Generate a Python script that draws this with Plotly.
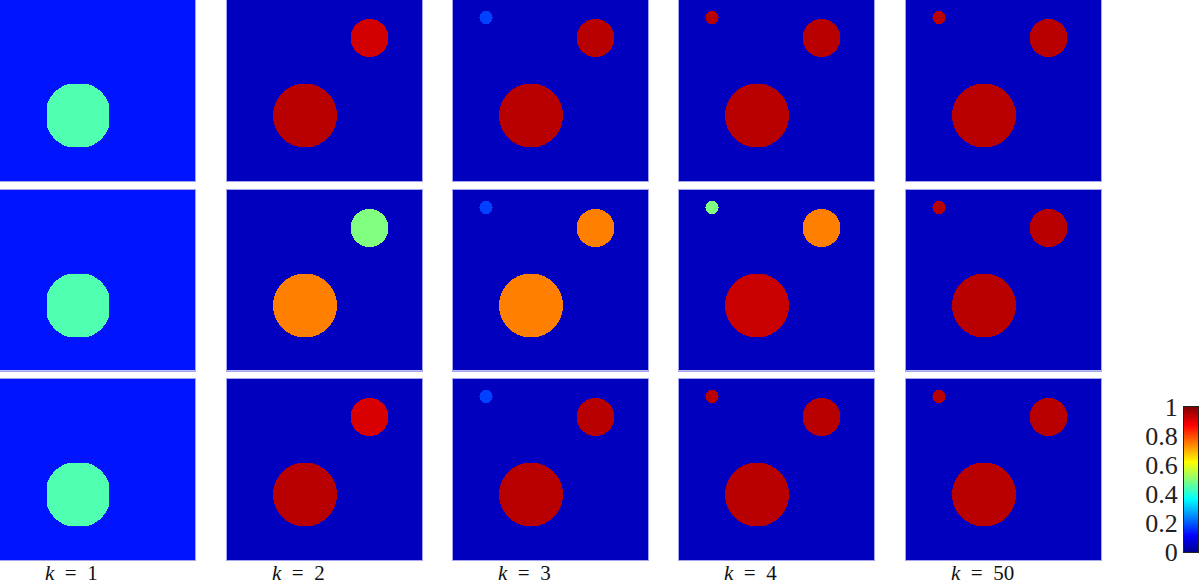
import numpy as np
import plotly.graph_objects as go

# ---------------- data ----------------
K_VALUES = ["1", "2", "3", "4", "50"]

# value of the background in each panel (rows x iterations)
BACKGROUND = [
    [0.131, 0.047, 0.047, 0.047, 0.047],
    [0.131, 0.047, 0.047, 0.047, 0.047],
    [0.131, 0.047, 0.047, 0.047, 0.047],
]
# value inside the large disk
LARGE_DISK = [
    [0.445, 0.943, 0.943, 0.943, 0.943],
    [0.445, 0.746, 0.746, 0.928, 0.943],
    [0.445, 0.943, 0.943, 0.943, 0.943],
]
# value inside the medium disk (None = not present)
MEDIUM_DISK = [
    [None, 0.918, 0.943, 0.943, 0.943],
    [None, 0.492, 0.746, 0.746, 0.943],
    [None, 0.912, 0.943, 0.943, 0.943],
]
# value inside the small disk (None = not present)
SMALL_DISK = [
    [None, None, 0.175, 0.943, 0.943],
    [None, None, 0.175, 0.492, 0.943],
    [None, None, 0.175, 0.943, 0.943],
]
# disk geometry in image pixels (image is 195 x 181): centre x, centre y, radius
IMG_W, IMG_H = 195, 181
LARGE_GEOM = (78.0, 115.5, 32.0)
MEDIUM_GEOM = (142.5, 38.0, 19.0)
SMALL_GEOM = (33.0, 17.5, 6.5)
# first iterate: disk clipped by a square (centre x, centre y, radius, half-size)
INIT_REGION = (78.0, 115.5, 33.0, 31.0)

CBAR_TICKS = [0, 0.2, 0.4, 0.6, 0.8, 1]

# MATLAB-style jet colormap
JET = [
    [0.0, "rgb(0,0,143)"],
    [0.111, "rgb(0,0,255)"],
    [0.365, "rgb(0,255,255)"],
    [0.619, "rgb(255,255,0)"],
    [0.873, "rgb(255,0,0)"],
    [1.0, "rgb(128,0,0)"],
]

# ---------------- build images ----------------
xs = np.arange(IMG_W) + 0.5
ys = np.arange(IMG_H) + 0.5
XX, YY = np.meshgrid(xs, ys)


def disk(geom):
    cx, cy, r = geom
    return (XX - cx) ** 2 + (YY - cy) ** 2 <= r ** 2


def clipped_disk(geom):
    cx, cy, r, h = geom
    dx = np.abs(XX - cx)
    dy = np.abs(YY - cy)
    return (dx <= h) & (dy <= h) & (dx ** 2 + dy ** 2 <= r ** 2)


def panel_image(r, c):
    z = np.full((IMG_H, IMG_W), BACKGROUND[r][c])
    if c == 0:
        z[clipped_disk(INIT_REGION)] = LARGE_DISK[r][c]
    else:
        z[disk(LARGE_GEOM)] = LARGE_DISK[r][c]
    if MEDIUM_DISK[r][c] is not None:
        z[disk(MEDIUM_GEOM)] = MEDIUM_DISK[r][c]
    if SMALL_DISK[r][c] is not None:
        z[disk(SMALL_GEOM)] = SMALL_DISK[r][c]
    return np.round(z, 3)


# ---------------- layout geometry (pixels) ----------------
FIG_W, FIG_H = 1200, 586
COL_X0 = [0, 227, 453, 679, 906]
ROW_Y0 = [0, 189.5, 379]
PANEL_W, PANEL_H = 195, 181

fig = go.Figure()
layout_axes = {}
n = 0
for r in range(3):
    for c in range(5):
        n += 1
        suffix = "" if n == 1 else str(n)
        fig.add_trace(
            go.Heatmap(
                z=panel_image(r, c),
                x=xs,
                y=ys,
                colorscale=JET,
                zmin=0,
                zmax=1,
                zsmooth=False,
                showscale=False,
                hoverinfo="skip",
                xaxis="x" + suffix,
                yaxis="y" + suffix,
            )
        )
        x0 = COL_X0[c] / FIG_W
        x1 = (COL_X0[c] + PANEL_W) / FIG_W
        ytop = 1 - ROW_Y0[r] / FIG_H
        ybot = 1 - (ROW_Y0[r] + PANEL_H) / FIG_H
        axstyle = dict(
            showticklabels=False,
            ticks="",
            showgrid=False,
            zeroline=False,
            showline=True,
            linecolor="#a3a3ee",
            linewidth=1,
            mirror=True,
            automargin=False,
        )
        layout_axes["xaxis" + suffix] = dict(
            domain=[x0, x1], range=[0, IMG_W], anchor="y" + suffix, **axstyle
        )
        layout_axes["yaxis" + suffix] = dict(
            domain=[max(ybot, 0), ytop], range=[IMG_H, 0], anchor="x" + suffix, **axstyle
        )

# colour bar drawn as a small heatmap with its own axis
n += 1
cb = str(n)
cb_edges = np.linspace(0, 1, 257)
cb_mid = (cb_edges[:-1] + cb_edges[1:]) / 2
fig.add_trace(
    go.Heatmap(
        z=cb_mid.reshape(-1, 1),
        x=[-0.5, 0.5],
        y=cb_edges,
        colorscale=JET,
        zmin=0,
        zmax=1,
        zsmooth=False,
        showscale=False,
        hoverinfo="skip",
        xaxis="x" + cb,
        yaxis="y" + cb,
    )
)
layout_axes["xaxis" + cb] = dict(
    domain=[1184 / FIG_W, 1198 / FIG_W],
    anchor="y" + cb,
    showticklabels=False,
    ticks="",
    showgrid=False,
    zeroline=False,
    showline=True,
    mirror=True,
    linecolor="#222222",
    linewidth=1,
    range=[-0.5, 0.5],
    automargin=False,
)
layout_axes["yaxis" + cb] = dict(
    domain=[1 - 552 / FIG_H, 1 - 407 / FIG_H],
    anchor="x" + cb,
    side="left",
    range=[0, 1],
    tickvals=CBAR_TICKS,
    ticktext=[("%g" % t) for t in CBAR_TICKS],
    ticks="",
    showgrid=False,
    zeroline=False,
    showline=True,
    mirror=True,
    linecolor="#222222",
    linewidth=1,
    automargin=False,
    tickfont=dict(family="Liberation Serif", size=26, color="#222222"),
)

annotations = []
for c, k in enumerate(K_VALUES):
    annotations.append(
        dict(
            x=(COL_X0[c] + 44) / FIG_W,
            y=0,
            xref="paper",
            yref="paper",
            xanchor="left",
            yanchor="bottom",
            borderpad=0,
            showarrow=False,
            text="<i>k</i>\u2002=\u2002" + k,
            font=dict(family="Liberation Serif", size=21, color="#111111"),
        )
    )

fig.update_layout(
    template="none",
    width=FIG_W,
    height=FIG_H,
    margin=dict(l=0, r=0, t=0, b=0, pad=0, autoexpand=False),
    paper_bgcolor="white",
    plot_bgcolor="white",
    showlegend=False,
    annotations=annotations,
    **layout_axes,
)

fig.write_html(
    "out.html",
    config={"displayModeBar": False},
    post_script="document.body.style.margin='0px';",
)
